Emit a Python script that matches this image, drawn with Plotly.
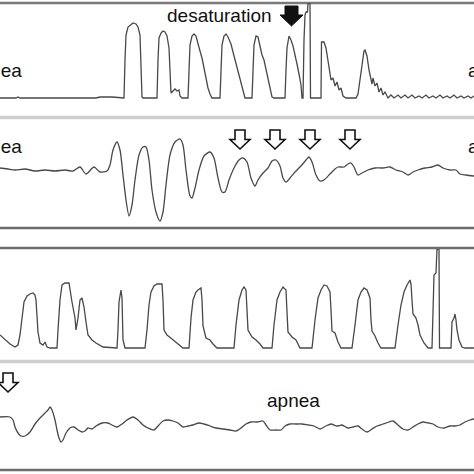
import plotly.graph_objects as go

# ---------------- data (time in samples, amplitude in arbitrary units) ----------------
t1 = [0,16,18,20,96,100,112,120,124,125,126,128,131,133,136,138,140,141,142,143,
      157,158,159,161,163,165,167,169,170,171,173,175,177,179,180,182,
      188,189,190,192,194,196,198,200,202,204,206,208,210,212,
      220,221,222,224,226,228,230,231,233,235,238,241,243,245,
      252,253,254,256,258,260,262,264,266,268,270,272,274,
      285,286,287,289,291,293,295,297,299,301,302,303,304,305,306,307.5,308,310,310.5,
      321,321.5,324,326,328,330,331,333,335,337,339,341,343,346,
      356,358,360,362,364,365,367,369,371,372,373,375,377,379,381,383,385,388,
      391,394,398,401,405,408,412,415,419,422,426,429,433,436,440,443,447,450,454,457,461,464,468,471,474]
s1 = [0,0,1,0,0,1,1,0,0,38,63,71,74,75,74,71,63,38,1,0,
      0,38,60,65,67,66,62,50,28,5,7,9,7,8,2,0,
      0,28,53,62,64,62,53,47,40,30,20,10,4,0,
      0,28,53,62,64,61,56,54,46,38,26,14,6,0,
      0,28,53,62,61,52,43,38,28,18,8,1,0,
      0,28,50,62,58,52,44,34,24,13,0,0,58,83,86,86,95,95,0,
      0,56,56,50,38,26,18,20,12,16,8,10,2,0,
      0,4,18,36,47,48,42,28,18,14,20,12,15,6,10,3,6,0,
      3,0,3,0,3,0,3,0,2,0,3,0,2,0,3,0,2,0,3,0,2,0,2,0,2]

t2 = [0,8,15,25,35,45,55,65,73,80,86,94,100,107,110,113,117,120,123,126,129,132,135,139,143,146,
      149,152,156,160,163,166,170,175,180,183,186,190,192,195,199,204,210,214,218,222,225,229,234,
      239,243,247,251,255,258,263,268,272,276,280,283,286,290,295,301,306,309,312,316,320,324,330,
      335,338,344,348,351,354,358,362,368,375,383,390,396,403,408,413,418,425,432,438,443,450,456,460,466,474]
s2 = [2,1,0,1,-1,0,-1,0,-1,3,-4,3,-2,-1,5,20,28,20,-5,-30,-46,-35,-10,15,23,23,
      10,-20,-42,-51,-42,-15,15,28,31,25,0,-26,-28,-18,0,14,18,12,-8,-22,-22,-10,2,
      10,12,8,-8,-16,-10,-3,2,9,10,4,-8,-12,-8,-2,4,10,13,8,-5,-11,-10,-4,
      1,3,3,6,7,3,-5,-3,0,2,2,3,0,-2,-5,-2,0,2,3,5,2,0,0,-4,-5,-6]

t3 = [0,5,10,15,18,20,22,24,27,30,33,35,36,37,38,40,43,45,47,50,
      57,58,60,62,65,69,70,72,75,76,78,80,82,84,86,88,92,96,103,
      117,118,119,121,122,123,125,
      145,147,149,151,154,157,162,163,164,167,172,178,183,
      189,191,193,196,198,201,202,203,206,210,213,217,
      234,236,239,242,244,246,247,248,252,256,260,263,
      272,274,277,280,283,286,287,288,292,296,300,
      312,315,318,321,324,327,330,331,332,335,338,341,
      352,355,358,361,364,367,370,371,372,375,378,381,
      395,398,401,404,407,410,411,412,413,416,418,420,424,428,
      432,433,434,436,437,439,439.5,451,452,454,455,456,457,459,462,465,474]
s3 = [13,8,4,1,3,13,30,46,52,54,55,53,48,28,16,5,3,6,1,0,
      0,18,48,63,65,65,58,46,30,18,30,48,50,41,26,13,8,5,1,
      0,18,46,58,50,8,0,
      0,18,43,56,62,64,64,48,18,13,9,4,0,
      0,30,48,56,58,60,48,22,10,8,4,0,
      0,23,48,58,61,58,38,18,11,8,4,0,
      0,23,48,56,61,58,36,16,11,8,0,
      0,28,50,58,63,62,56,38,17,15,6,0,
      0,23,48,56,60,58,50,28,17,12,5,0,
      0,23,43,56,63,68,64,48,34,30,23,13,5,0,
      0,36,73,75,99,99,0,0,26,30,34,28,18,8,1,0,0]

t4 = [0,10,13,15,18,21,25,30,35,40,45,48,50,52,55,57,59,61,63,66,70,74,78,82,85,88,92,96,
      102,108,112,117,122,127,133,138,143,148,154,158,163,168,173,178,183,188,193,199,204,
      210,216,223,230,236,241,246,251,257,263,266,270,276,281,285,290,296,302,308,314,320,
      326,331,337,342,348,353,358,362,367,372,377,383,389,393,398,403,408,413,418,423,428,
      433,438,444,450,455,460,465,470,474]
s4 = [8,8,5,-2,-8,-11,-11,-7,1,7,12,15,18,15,5,-5,-13,-17,-15,-8,-3,-2,-5,-7,-6,-3,-4,-1,
      2,2,0,-2,1,5,8,5,0,-3,-5,-1,4,5,4,2,-2,-1,0,2,1,
      -1,-3,-4,-5,-6,-3,1,3,3,4,0,-5,-5,-5,-1,1,1,1,0,-1,-4,
      -1,1,-1,0,-3,-2,-1,-4,-7,-4,-1,1,3,4,0,-4,-5,-2,1,3,2,
      1,-2,-3,-1,-1,0,3,5,6]

# annotations: (panel, x, amplitude, text, anchor)
labels = [
    (1, 24, 28, "apnea", "right"),
    (1, 466, 28, "apnea", "left"),
    (1, 219.5, 83, "desaturation", "center"),
    (2, 24, 23.5, "apnea", "right"),
    (2, 466, 23.5, "apnea", "left"),
    (4, 293.5, 25, "apnea", "center"),
]
hollow_arrows = [(2, 240, 40), (2, 275, 40), (2, 310, 40), (2, 350, 40), (4, 8, 52)]
solid_arrows = [(1, 291.5, 92)]

# ---------------- layout geometry (pixels) ----------------
W = H = 474
panels_px = [(3, 117), (118, 228), (249, 361), (362, 470)]
yranges = [(-19, 95), (-58, 52), (-13, 99), (-45, 63)]
shapes_kind = ["linear", "spline", "linear", "spline"]
borders = [(3, "#7a7a7a", 2.5), (117.5, "#cfcfcf", 3.5), (228, "#6e6e6e", 2.5),
           (248, "#6e6e6e", 2.5), (361.5, "#cfcfcf", 3.5), (470, "#6e6e6e", 2.5)]

fig = go.Figure()
series = [(t1, s1), (t2, s2), (t3, s3), (t4, s4)]
for i, (t, s) in enumerate(series):
    k = "" if i == 0 else str(i + 1)
    line = dict(color="#484848", width=1.3, shape=shapes_kind[i])
    if shapes_kind[i] == "spline":
        line["smoothing"] = 0.7
    fig.add_trace(go.Scatter(x=t, y=s, mode="lines", xaxis="x" + k, yaxis="y" + k,
                             line=line, showlegend=False,
                             hoverinfo="skip", cliponaxis=True))
    top, bot = panels_px[i]
    fig.layout["xaxis" + k] = dict(range=[0, 474], visible=False, domain=[0, 1],
                                   anchor="y" + k, fixedrange=True)
    fig.layout["yaxis" + k] = dict(range=list(yranges[i]), visible=False,
                                   domain=[1 - bot / H, 1 - top / H], anchor="x" + k,
                                   fixedrange=True)

def ax(p):
    return ("x", "y") if p == 1 else ("x" + str(p), "y" + str(p))

shapes = []
for y, c, w in borders:
    shapes.append(dict(type="line", xref="paper", yref="paper", x0=0, x1=1,
                       y0=1 - y / H, y1=1 - y / H, line=dict(color=c, width=w), layer="below"))

def arrow_path(cx, top, sh, hh, shaft_len, total):
    return (f"M {cx-sh},{top} L {cx+sh},{top} L {cx+sh},{top-shaft_len} L {cx+hh},{top-shaft_len} "
            f"L {cx},{top-total} L {cx-hh},{top-shaft_len} L {cx-sh},{top-shaft_len} Z")

for p, cx, top in hollow_arrows:
    xr, yr = ax(p)
    shapes.append(dict(type="path", xref=xr, yref=yr, path=arrow_path(cx, top, 5, 10, 9.5, 19),
                       fillcolor="white", line=dict(color="#111111", width=1.6)))
for p, cx, top in solid_arrows:
    xr, yr = ax(p)
    shapes.append(dict(type="path", xref=xr, yref=yr, path=arrow_path(cx, top, 6.5, 11.5, 9, 20),
                       fillcolor="#111111", line=dict(color="#111111", width=1)))

annotations = []
for p, x, y, txt, anc in labels:
    xr, yr = ax(p)
    annotations.append(dict(x=x, y=y, xref=xr, yref=yr, text=txt, showarrow=False,
                            xanchor=anc, yanchor="middle",
                            font=dict(family="Liberation Sans, Arial", size=19, color="#111111")))

fig.update_layout(width=W, height=H, margin=dict(l=0, r=0, t=0, b=0),
                  paper_bgcolor="white", plot_bgcolor="rgba(0,0,0,0)",
                  shapes=shapes, annotations=annotations)
fig.write_html("out.html", config={"displayModeBar": False},
               post_script="document.body.style.margin='0';document.body.style.overflow='hidden';")
